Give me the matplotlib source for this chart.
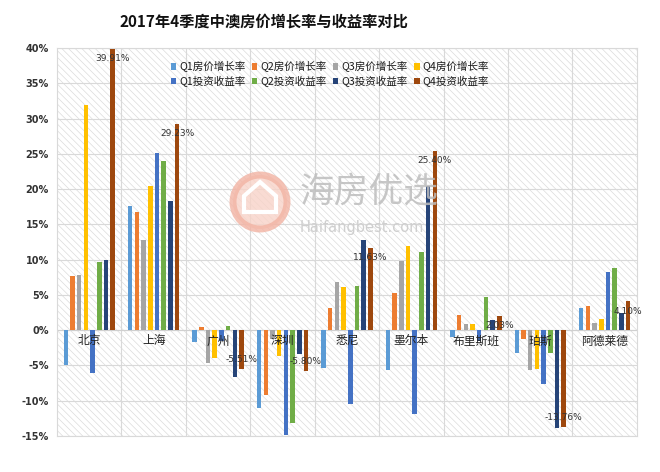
import matplotlib
matplotlib.use("Agg")
import matplotlib.pyplot as plt
from matplotlib.patches import Circle, Polygon
from matplotlib.ticker import FixedLocator
import numpy as np

plt.rcParams['font.family'] = ['Noto Sans CJK SC', 'DejaVu Sans']
plt.rcParams['hatch.linewidth'] = 0.5
plt.rcParams['hatch.color'] = '#dcdcdc'

cities = ['北京', '上海', '广州', '深圳', '悉尼', '墨尔本', '布里斯班', '珀斯', '阿德莱德']
series_names = ['Q1房价增长率', 'Q2房价增长率', 'Q3房价增长率', 'Q4房价增长率',
                'Q1投资收益率', 'Q2投资收益率', 'Q3投资收益率', 'Q4投资收益率']
colors = ['#5B9BD5', '#ED7D31', '#A5A5A5', '#FFC000',
          '#4472C4', '#70AD47', '#264478', '#9E480E']

q1_price = [-5.0, 17.6, -1.7, -11.1, -5.4, -5.6, -0.95, -3.2, 3.2]
q2_price = [7.7, 16.7, 0.5, -9.2, 3.2, 5.3, 2.2, -1.3, 3.45]
q3_price = [7.9, 12.8, -4.7, -1.3, 6.8, 9.8, 0.85, -5.6, 1.0]
q4_price = [31.9, 20.5, -3.9, -3.6, 6.1, 12.0, 0.95, -5.5, 1.6]
q1_yield = [-6.1, 25.2, -1.5, -14.9, -10.5, -11.9, -1.6, -7.6, 8.2]
q2_yield = [9.7, 24.0, 0.66, -13.1, 6.2, 11.1, 4.7, -3.2, 8.8]
q3_yield = [9.9, 18.3, -6.7, -3.4, 12.8, 20.5, 1.5, -13.9, 2.5]
q4_yield = [39.91, 29.23, -5.51, -5.80, 11.63, 25.40, 2.03, -13.76, 4.10]

series = [q1_price, q2_price, q3_price, q4_price, q1_yield, q2_yield, q3_yield, q4_yield]
yticks = [-15, -10, -5, 0, 5, 10, 15, 20, 25, 30, 35, 40]

fig = plt.figure(figsize=(6.6, 4.72), dpi=100)
ax = fig.add_axes([0.0864, 0.0763, 0.8786, 0.8217])
ax.patch.set_facecolor('white')
ax.patch.set_hatch('\\\\\\\\\\')
ax.patch.set_edgecolor('#dcdcdc')

# watermark
wm_col = '#f2b3a3'
fig.add_artist(Circle((2.60, 2.70), 0.27, transform=fig.dpi_scale_trans,
                      facecolor='#f8d3c8', edgecolor=wm_col, linewidth=5, zorder=1, alpha=0.8))
fig.add_artist(Polygon([(2.44, 2.60), (2.44, 2.76), (2.60, 2.90), (2.76, 2.76), (2.76, 2.60)],
                       closed=True, transform=fig.dpi_scale_trans, facecolor='none',
                       edgecolor='white', linewidth=3, zorder=1))
fig.text(3.00 / 6.6, 2.79 / 4.72, '海房优选', fontsize=25, color='#bdbdbd', alpha=0.85,
         va='center', ha='left', zorder=1)
fig.text(3.00 / 6.6, 2.44 / 4.72, 'Haifangbest.com', fontsize=10.5, color='#cfcfcf',
         va='center', ha='left', zorder=1, family='DejaVu Sans')

n = len(series)
x = np.arange(len(cities))
slot = 0.104
bw = 0.07
for j, (vals, c, name) in enumerate(zip(series, colors, series_names)):
    ax.bar(x + (j - (n - 1) / 2) * slot, vals, width=bw, color=c, label=name, zorder=3)

# data labels for Q4 yield
for i, v in enumerate(q4_yield):
    xi = x[i] + (n - 1 - (n - 1) / 2) * slot
    off = -7 if v > 0 else 7
    ax.annotate(f'{v:.2f}%', (xi, v), xytext=(0, off), textcoords='offset points',
                ha='center', va='center', fontsize=6.5, color='#333333', zorder=5,
                family='DejaVu Sans')

# category labels near zero line
for i, c in enumerate(cities):
    ax.annotate(c, (x[i], 0), xytext=(0, -3), textcoords='offset points',
                ha='center', va='top', fontsize=8.5, color='#222222', zorder=6)

ax.set_xlim(-0.5, len(cities) - 0.5)
ax.set_ylim(-15, 40)
ax.yaxis.set_major_locator(FixedLocator(yticks))
ax.set_yticklabels([f'{t}%' for t in yticks], fontsize=7, fontweight='bold',
                   family='DejaVu Sans', color='#333333')
ax.set_xticks([])
ax.xaxis.set_minor_locator(FixedLocator(np.arange(0.5, len(cities) - 0.5, 1)))
ax.tick_params(axis='y', length=0, pad=6)
ax.tick_params(axis='x', which='both', length=0)
ax.grid(axis='y', which='major', color='#d9d9d9', linewidth=0.8, zorder=0)
ax.grid(axis='x', which='minor', color='#d9d9d9', linewidth=0.8, zorder=0)
ax.set_axisbelow(True)
ax.axhline(0, color='#d0d0d0', linewidth=0.8, zorder=2)
for s in ax.spines.values():
    s.set_color('#d9d9d9')
    s.set_linewidth(0.8)

# legend: row1 price series, row2 yield series (column-major ordering)
handles, labels = ax.get_legend_handles_labels()
order = []
for k in range(4):
    order += [k, k + 4]
leg = ax.legend([handles[k] for k in order], [labels[k] for k in order], ncol=4,
                loc='center', bbox_to_anchor=(0.47, 0.933), frameon=False,
                fontsize=7.6, handlelength=0.55, handleheight=0.55, handletextpad=0.25,
                columnspacing=0.6, labelspacing=0.35)
for t in leg.get_texts():
    t.set_color('#1a1a1a')

fig.text(0.4, 0.955, '2017年4季度中澳房价增长率与收益率对比', ha='center', va='center',
         fontsize=11, fontweight='bold', color='#111111')

fig.savefig('out.png', dpi=100, facecolor='white')
